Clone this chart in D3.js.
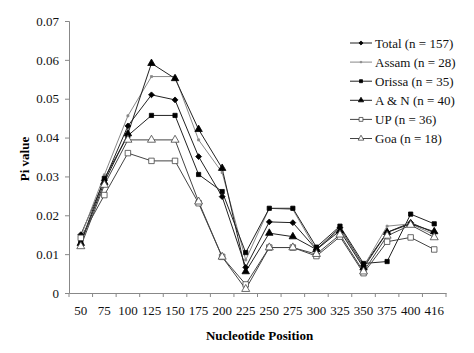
<!DOCTYPE html>
<html>
<head>
<meta charset="utf-8">
<script src="https://cdn.jsdelivr.net/npm/d3@7"></script>
<style>
  body { margin: 0; background: #fff; }
  svg, svg text { font-family: "Liberation Serif", "Times New Roman", serif; }
</style>
</head>
<body>
<div id="chart"></div>
<script>

var positions = [ '50', '75', '100', '125', '150', '175', '200', '225', '250', '275', '300', '325', '350', '375', '400', '416' ];

var yTicks = [ 0, 0.01, 0.02, 0.03, 0.04, 0.05, 0.06, 0.07 ];

var total  = [ 0.0150, 0.0290, 0.0430, 0.0510, 0.0497, 0.0351, 0.0248, 0.0066, 0.0183, 0.0181, 0.0112, 0.0168, 0.0070, 0.0156, 0.0181, 0.0155 ];
var assam  = [ 0.0145, 0.0304, 0.0456, 0.0557, 0.0557, 0.0394, 0.0310, 0.0085, 0.0218, 0.0215, 0.0110, 0.0165, 0.0068, 0.0172, 0.0178, 0.0150 ];
var orissa = [ 0.0130, 0.0295, 0.0405, 0.0457, 0.0457, 0.0305, 0.0261, 0.0104, 0.0218, 0.0218, 0.0118, 0.0172, 0.0076, 0.0081, 0.0203, 0.0178 ];
var andn   = [ 0.0128, 0.0285, 0.0410, 0.0591, 0.0552, 0.0421, 0.0321, 0.0055, 0.0154, 0.0145, 0.0112, 0.0160, 0.0065, 0.0156, 0.0178, 0.0158 ];
var up     = [ 0.0142, 0.0252, 0.0360, 0.0340, 0.0340, 0.0231, 0.0093, 0.0022, 0.0117, 0.0117, 0.0095, 0.0145, 0.0051, 0.0132, 0.0143, 0.0112 ];
var goa    = [ 0.0120, 0.0278, 0.0394, 0.0394, 0.0394, 0.0235, 0.0093, 0.0010, 0.0117, 0.0117, 0.0100, 0.0150, 0.0055, 0.0147, 0.0175, 0.0143 ];

var seriesNames = [ 'Total (n = 157)', 'Assam (n = 28)', 'Orissa (n = 35)', 'A & N (n = 40)', 'UP (n = 36)', 'Goa (n = 18)' ];

var series = [
    { name: seriesNames[0], values: total,  line: '#222', shape: d3.symbolDiamond2, size: 22, fill: '#000', stroke: '#000' },
    { name: seriesNames[1], values: assam,  line: '#888', shape: d3.symbolSquare,   size: 4,  fill: '#888', stroke: '#888' },
    { name: seriesNames[2], values: orissa, line: '#222', shape: d3.symbolSquare,   size: 18, fill: '#000', stroke: '#000' },
    { name: seriesNames[3], values: andn,   line: '#222', shape: d3.symbolTriangle, size: 24, fill: '#000', stroke: '#000' },
    { name: seriesNames[4], values: up,     line: '#444', shape: d3.symbolSquare,   size: 30, fill: '#fff', stroke: '#444' },
    { name: seriesNames[5], values: goa,    line: '#444', shape: d3.symbolTriangle, size: 28, fill: '#fff', stroke: '#444' }
];

var width = 474,
    height = 353,
    margin = { top: 21, right: 28, bottom: 60, left: 69 };

var svg = d3.select('#chart').append('svg')
    .attr('width', width)
    .attr('height', height);

var x = d3.scaleBand()
    .domain( positions )
    .range([ margin.left, width - margin.right ]);

var y = d3.scaleLinear()
    .domain([ 0, 0.07 ])
    .range([ height - margin.bottom, margin.top ]);

// axes

var xAxis = svg.append('g')
    .attr('transform', 'translate(0,' + ( height - margin.bottom ) + ')')
    .call( d3.axisBottom( x ).tickSize( 0 ).tickPadding( 13 ) )
    .attr('font-family', null);

xAxis.selectAll('.tick text')
    .style('font-size', '13px')
    .style('fill', '#111');

// tick marks at band edges
xAxis.selectAll('.edge')
    .data( positions.concat([ null ]) )
    .enter().append('line')
    .attr('x1', function ( d, i ) { return margin.left + i * x.step(); })
    .attr('x2', function ( d, i ) { return margin.left + i * x.step(); })
    .attr('y1', 0)
    .attr('y2', 4)
    .style('stroke', '#888');

var yAxis = svg.append('g')
    .attr('transform', 'translate(' + margin.left + ',0)')
    .call( d3.axisLeft( y ).tickValues( yTicks ).tickSize( 4 ).tickPadding( 6 )
        .tickFormat( function ( d ) { return d === 0 ? '0' : d3.format('.2f')( d ); }) )
    .attr('font-family', null);

yAxis.selectAll('.tick text')
    .style('font-size', '13px')
    .style('fill', '#111');

svg.selectAll('.domain').style('stroke', '#888');
svg.selectAll('.tick line').style('stroke', '#888');

svg.append('text')
    .attr('x', ( margin.left + width - margin.right ) / 2 + 2)
    .attr('y', 340)
    .attr('text-anchor', 'middle')
    .style('font-size', '13px')
    .style('font-weight', 'bold')
    .text('Nucleotide Position');

svg.append('text')
    .attr('transform', 'translate(29,' + ( ( margin.top + height - margin.bottom ) / 2 + 2 ) + ') rotate(-90)')
    .attr('text-anchor', 'middle')
    .style('font-size', '13px')
    .style('font-weight', 'bold')
    .text('Pi value');

// lines

var line = d3.line()
    .x( function ( d, i ) { return x( positions[ i ] ) + x.bandwidth() / 2; })
    .y( function ( d ) { return y( d ); });

series.forEach( function ( s ) {

    svg.append('path')
        .datum( s.values )
        .attr('d', line)
        .style('fill', 'none')
        .style('stroke', s.line)
        .style('stroke-width', 1);

});

series.forEach( function ( s ) {

    svg.selectAll(null)
        .data( s.values )
        .enter().append('path')
        .attr('transform', function ( d, i ) {
            return 'translate(' + ( x( positions[ i ] ) + x.bandwidth() / 2 ) + ',' + y( d ) + ')';
        })
        .attr('d', d3.symbol().type( s.shape ).size( s.size ))
        .style('fill', s.fill)
        .style('stroke', s.stroke)
        .style('stroke-width', 0.8);

});

// legend

var legend = svg.append('g')
    .attr('transform', 'translate(350,43)');

var item = legend.selectAll('.item')
    .data( series )
    .enter().append('g')
    .attr('class', 'item')
    .attr('transform', function ( d, i ) { return 'translate(0,' + i * 19.1 + ')'; });

item.append('line')
    .attr('x1', 0)
    .attr('x2', 22)
    .attr('y1', 0)
    .attr('y2', 0)
    .style('stroke', function ( d ) { return d.line; });

item.append('path')
    .attr('transform', 'translate(11,0)')
    .attr('d', function ( d ) { return d3.symbol().type( d.shape ).size( d.size * 0.5 )(); })
    .style('fill', function ( d ) { return d.fill; })
    .style('stroke', function ( d ) { return d.stroke; })
    .style('stroke-width', 0.8);

item.append('text')
    .attr('x', 25)
    .attr('dy', '0.35em')
    .style('font-size', '13px')
    .style('fill', '#111')
    .text( function ( d ) { return d.name; });

</script>
</body>
</html>
